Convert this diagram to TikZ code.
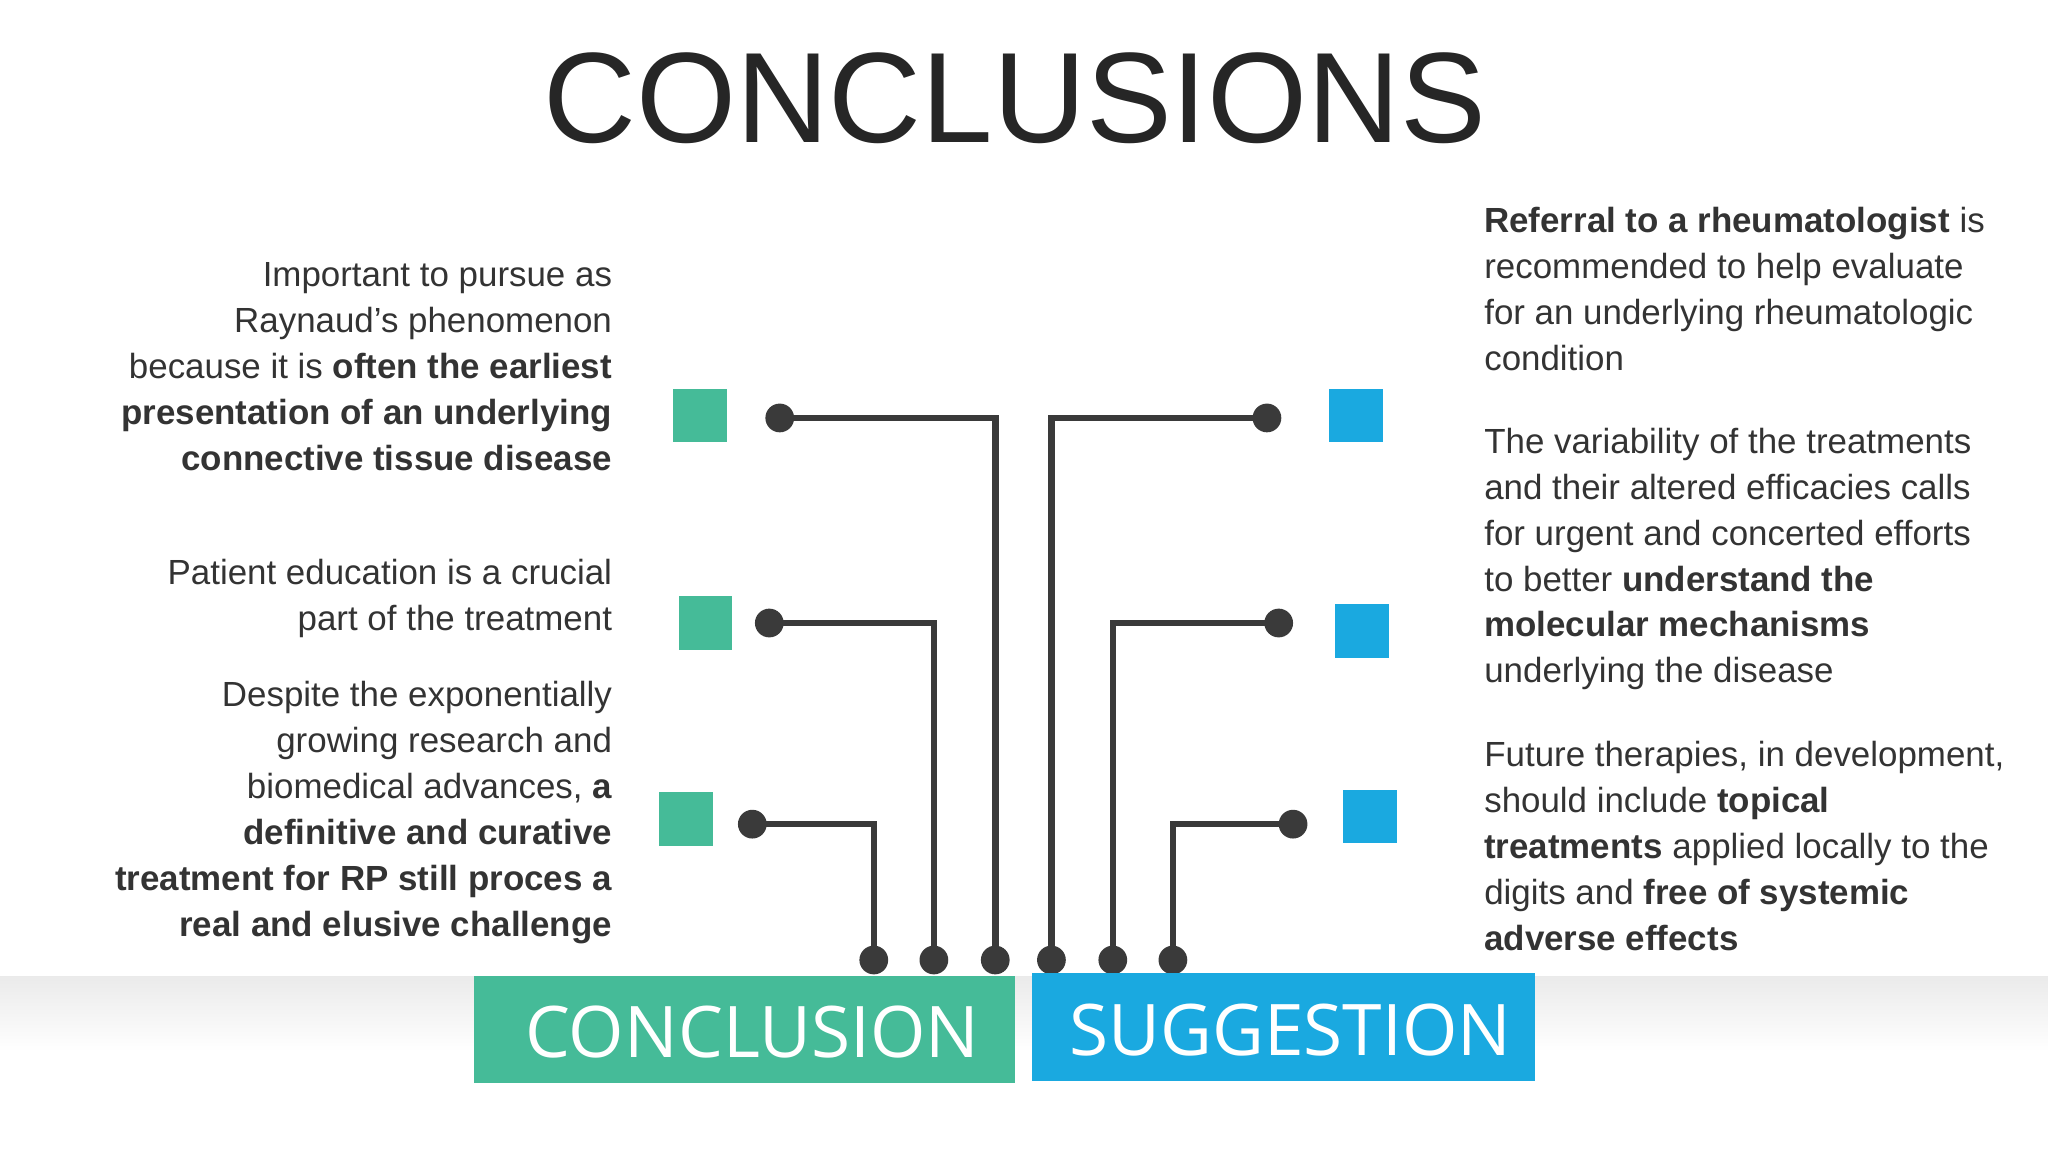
\documentclass[tikz,border=0pt]{standalone}
\usepackage{fontspec}
\setmainfont{Liberation Sans}
\newfontfamily\labelfont{Open Sans}
\usetikzlibrary{positioning}
\definecolor{cgreen}{HTML}{45BB98}
\definecolor{cblue}{HTML}{1AA9E0}
\definecolor{wire}{HTML}{3A3A3A}
\begin{document}
\begin{tikzpicture}[x=0.01cm,y=-0.01cm]
	\tikzstyle{sq_l} = [fill=cgreen, minimum size=0.41cm, inner sep=0pt]
	\tikzstyle{sq_r} = [fill=cblue, minimum size=0.41cm, inner sep=0pt]
	\tikzstyle{dot} = [circle, fill=wire, minimum size=0.22cm, inner sep=0pt]
	\tikzstyle{wire_edge} = [line width=0.05cm, draw=wire]
	\tikzstyle{txt_l} = [align=right, anchor=east, text=black!80, font=\fontsize{7.6}{10}\selectfont]
	\tikzstyle{txt_r} = [align=left, anchor=west, text=black!80, font=\fontsize{7.6}{10}\selectfont]
	\tikzstyle{tag} = [text=white, inner sep=0pt, font=\labelfont\fontsize{15.5}{18}\selectfont]
	\useasboundingbox (0,0) rectangle (1568,882);
	\shade[top color=black!8, bottom color=white] (0,748) rectangle (1568,805);

	\node[font=\fontsize{28}{32}\selectfont, text=black!85] (title) at (777,75) {CONCLUSIONS};

	% squares
	\foreach \name/\x/\y in {gl_1/536/318, gl_2/540/477, gl_3/525/627}
		\node[sq_l] (\name) at (\x,\y) {};
	\foreach \name/\x/\y in {bl_1/1038/318, bl_2/1043/483, bl_3/1049/625}
		\node[sq_r] (\name) at (\x,\y) {};

	% connectors
	\foreach \name/\x/\y/\b in {ls_1/597/320/762, ls_2/589/477/715, ls_3/576/631/669,
		rs_1/970/320/805, rs_2/979/477/852, rs_3/990/631/898} {
		\node[dot] (\name) at (\x,\y) {};
		\node[dot] (\name e) at (\b,735) {};
		\draw[wire_edge] (\name.center) -| (\name e.center);
	}

	% tags
	\fill[cgreen] (363,747) rectangle (777,829);
	\fill[cblue] (790,745) rectangle (1175,828);
	\node[tag] (concl) at (576,790) {CONCLUSION};
	\node[tag] (sugg) at (988,789) {SUGGESTION};

	% left texts
	\node[txt_l] (lt_1) at (481,281) {Important to pursue as\\Raynaud’s phenomenon\\because it is \textbf{often the earliest}\\\textbf{presentation of an underlying}\\\textbf{connective tissue disease}};
	\node[txt_l] (lt_2) at (481,458) {Patient education is a crucial\\part of the treatment};
	\node[txt_l] (lt_3) at (481,622) {Despite the exponentially\\growing research and\\biomedical advances, \textbf{a}\\\textbf{definitive and curative}\\\textbf{treatment for RP still proces a}\\\textbf{real and elusive challenge}};

	% right texts
	\node[txt_r] (rt_1) at (1124,221) {\textbf{Referral to a rheumatologist} is\\recommended to help evaluate\\for an underlying rheumatologic\\condition};
	\node[txt_r] (rt_2) at (1124,428) {The variability of the treatments\\and their altered efficacies calls\\for urgent and concerted efforts\\to better \textbf{understand the}\\\textbf{molecular mechanisms}\\underlying the disease};
	\node[txt_r] (rt_3) at (1124,648) {Future therapies, in development,\\should include \textbf{topical}\\\textbf{treatments} applied locally to the\\digits and \textbf{free of systemic}\\\textbf{adverse effects}};
\end{tikzpicture}
\end{document}
